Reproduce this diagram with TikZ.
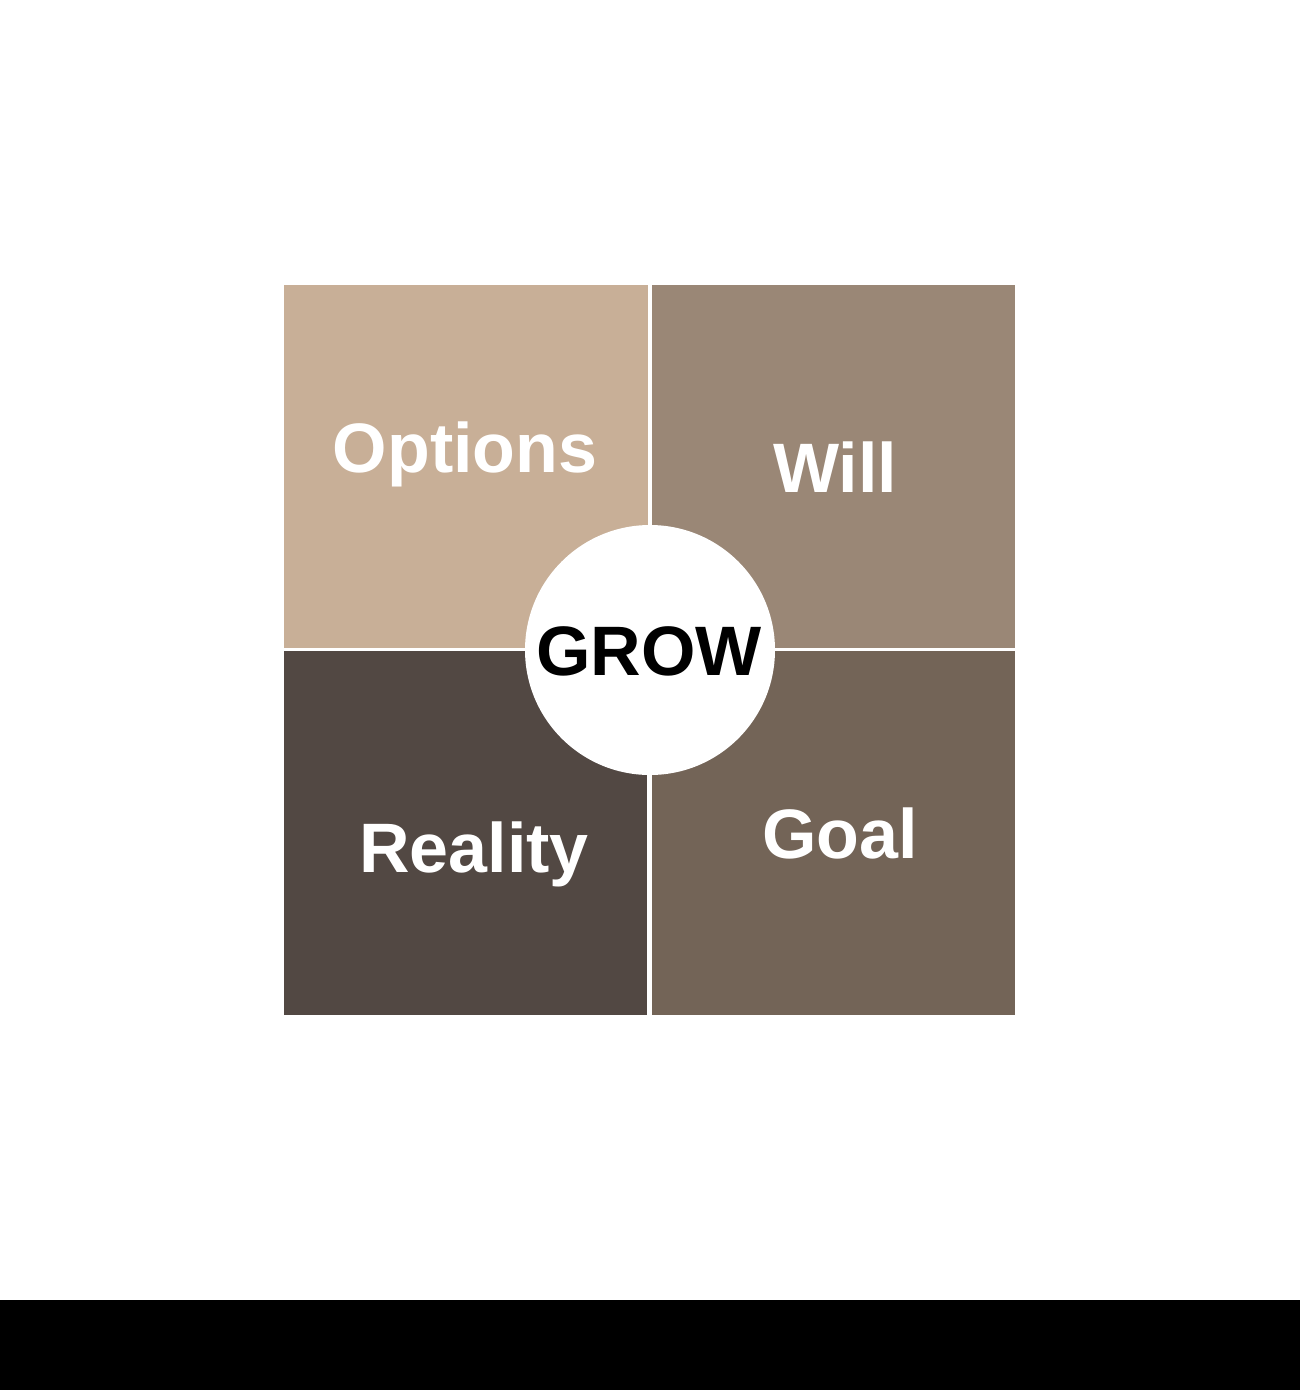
\documentclass[tikz,border=0pt]{standalone}
\usepackage{fontspec}
\setmainfont{Liberation Sans}
\definecolor{optc}{HTML}{C8AF97}
\definecolor{willc}{HTML}{9A8776}
\definecolor{realc}{HTML}{524843}
\definecolor{goalc}{HTML}{736457}
\begin{document}
\begin{tikzpicture}[x=1pt,y=-1pt,
  quad/.style={draw=none,inner sep=0pt,outer sep=0pt},
  lbl/.style={anchor=base,inner sep=0pt,text=white,font=\fontsize{70}{70}\selectfont\bfseries},
  hub/.style={circle,fill=white,draw=none,minimum size=250pt,inner sep=0pt},
  hubtxt/.style={anchor=base,inner sep=0pt,text=black,font=\fontsize{70}{70}\selectfont\bfseries}]
\useasboundingbox (0,0) rectangle (1300,1390);
\fill[white] (0,0) rectangle (1300,1390);
\fill[optc]  (284,285) rectangle (648,648);
\fill[willc] (652,285) rectangle (1015,648);
\fill[realc] (284,651) rectangle (647,1015);
\fill[goalc] (652,651) rectangle (1015,1015);
\node[hub] (hubc) at (650,650) {};
\node[lbl] (opt) at (465,472) {Options};
\node[lbl] (will) at (835,492) {Will};
\node[lbl] (real) at (474,872) {Reality};
\node[lbl] (goal) at (840,858) {Goal};
\node[hubtxt] (grow) at (649,675) {GROW};
\fill[black] (0,1300) rectangle (1300,1390);
\end{tikzpicture}
\end{document}
